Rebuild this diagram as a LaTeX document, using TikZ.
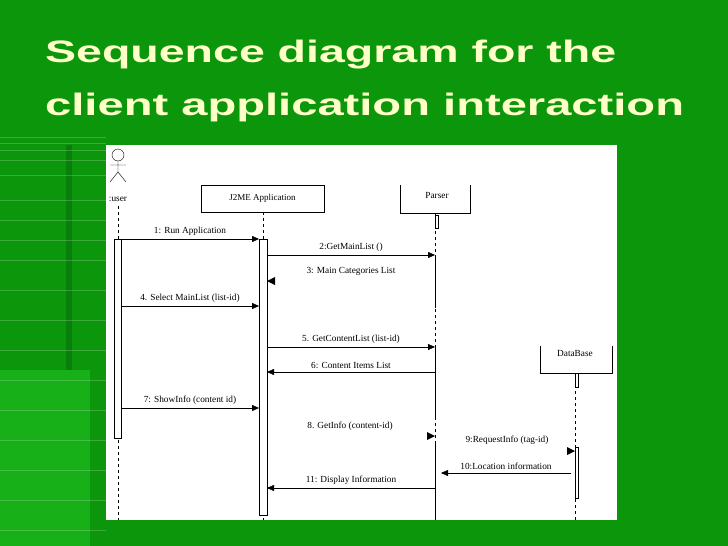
\documentclass[tikz,border=0pt]{standalone}
\usepackage{fontspec}
\setmainfont{Liberation Serif}
\newfontfamily\ttl{Liberation Sans}
\usetikzlibrary{arrows.meta}
\definecolor{bg}{HTML}{0B960B}
\definecolor{bgl}{HTML}{18B018}
\definecolor{bgd}{HTML}{087F08}
\definecolor{ttlc}{HTML}{FFFFC8}
\begin{document}
\begin{tikzpicture}[x=1pt,y=-1pt,
  obj/.style={draw,thick,minimum width=#1,minimum height=27pt,inner sep=0,font=\fontsize{9}{10}\selectfont},
  act/.style={draw,fill=white},
  life/.style={dashed,thin},
  msg/.style={-{Triangle[length=7pt,width=6pt]}},
  lab/.style={font=\fontsize{9.3}{10}\selectfont,inner sep=1pt},
  ttls/.style={anchor=base west,text=ttlc,font=\ttl\bfseries\fontsize{31}{36}\selectfont,inner sep=0}]
\useasboundingbox (0,0) rectangle (728,546);
\fill[bg] (0,0) rectangle (728,546);
\fill[bgl] (0,370) rectangle (90,546);
\fill[bgd] (66,145) rectangle (72,370);
\foreach \y in {137,143,150,160,175,200,220,240,260,290,320,350,380,410,440,470,500,530}
  \draw[white,opacity=0.2,line width=0.5pt] (0,\y) -- (106,\y);
\node[ttls] (t1) at (45,62) {\scalebox{1.5}[1]{Sequence diagram for the}};
\node[ttls] (t2) at (45,115) {\scalebox{1.52}[1]{client application interaction}};
\fill[white] (106,145) rectangle (617,520);
% actor
\draw (118,155) circle (6);
\draw (118,161) -- (118,172) (110,165) -- (126,165) (118,172) -- (110,182) (118,172) -- (126,182);
\node[lab] (user) at (118,199) {:user};
% objects
\node[obj=123pt] (app) at (262.5,198.5) {J2ME Application};
\draw (400,185) -- (400,213) -- (470,213) -- (470,185);
\node[lab] (parser) at (437,195) {Parser};
\draw (540,346) -- (540,373) -- (612,373) -- (612,346);
\node[lab] (db) at (575,353) {DataBase};
% lifelines
\draw[life] (118,206) -- (118,520);
\draw[life] (263,212) -- (263,520);
\draw[life] (435,213) -- (435,520);
\draw[life] (575,373) -- (575,520);
% activations
\draw[act] (114,239) rectangle (121,438);
\draw[act] (259,239) rectangle (267,515);
\draw[act] (435,215) rectangle (438,228);
\draw (435,255) -- (435,308);
\draw (435,347) -- (435,420);
\draw (435,443) -- (435,520);
\draw[act] (575,373) rectangle (578,387);
\draw[act] (575,447) rectangle (578,498);
% messages
\coordinate (m3) at (267,281); \coordinate (m8) at (435,436); \coordinate (m9) at (575,451);
\draw[msg] (121,239) -- node[lab,above=2pt]{1: Run Application} (259,239);
\draw[msg] (267,255) -- node[lab,above=2pt]{2:GetMainList ()} (435,255);
\fill (m3) -- ++(8,-4) -- ++(0,8) -- cycle;
\node[lab] (l3) at (351,271) {3: Main Categories List};
\draw[msg] (121,306) -- node[lab,above=2pt]{4. Select MainList (list-id)} (259,306);
\draw[msg] (267,347) -- node[lab,above=2pt]{5. GetContentList (list-id)} (435,347);
\draw[msg] (435,372) -- node[lab,above=2pt]{6: Content Items List} (267,372);
\draw[msg] (121,408) -- node[lab,above=2pt]{7: ShowInfo (content id)} (259,408);
\fill (m8) -- ++(-8,-4) -- ++(0,8) -- cycle;
\node[lab] (l8) at (350,426) {8. GetInfo (content-id)};
\fill (m9) -- ++(-8,-4) -- ++(0,8) -- cycle;
\node[lab] (l9) at (507,440) {9:RequestInfo (tag-id)};
\draw[msg] (571,473) -- node[lab,above=2pt]{10:Location information} (441,473);
\draw[msg] (435,488) -- node[lab,above=2pt]{11: Display Information} (267,488);
\end{tikzpicture}
\end{document}
